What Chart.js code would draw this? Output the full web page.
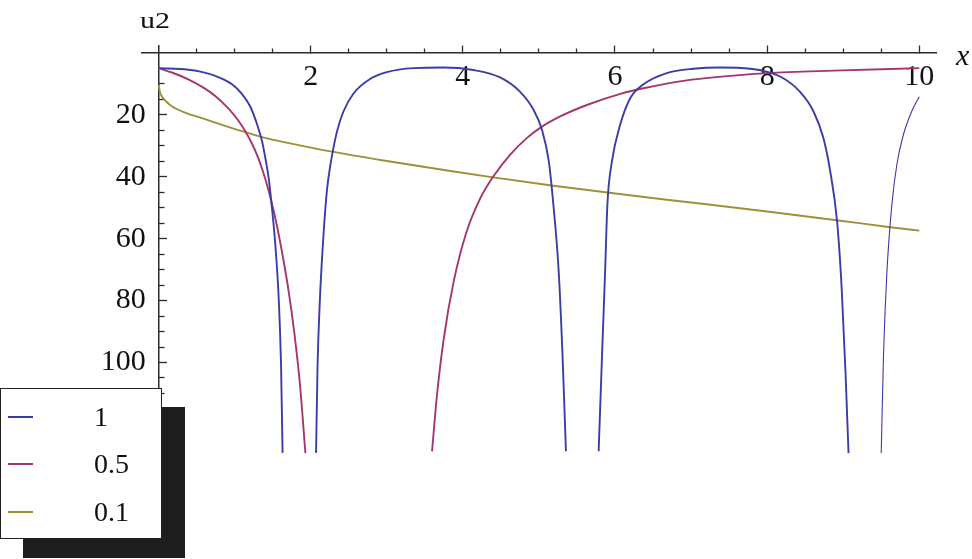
<!DOCTYPE html>
<html lang="en">
<head>
    <meta charset="UTF-8">
    <title>u2</title>
    <style>
        body { margin: 0; background: #fff; }
        #wrap { position: relative; width: 972px; height: 559px; overflow: hidden; }
        #plot { position: absolute; left: 0; top: 0; }
        .txt { position: absolute; font-family: "Liberation Serif", serif; color: #111; line-height: 1; white-space: nowrap; }
        #ylab { left: 140px; top: 8px; font-size: 24px; transform: scaleX(1.25); transform-origin: left top; }
        #xlab { left: 956px; top: 40px; font-size: 30px; font-style: italic; }
        #legend { position: absolute; left: 0; top: 388px; width: 162px; height: 151px; box-sizing: border-box;
                  border: 1.5px solid #222; background: #fff; box-shadow: 23px 19px 0 #1e1e1e; }
        .row { position: absolute; left: 0; width: 160px; height: 30px; }
        .row i { position: absolute; left: 7px; top: 14px; width: 25px; height: 2px; }
        .row span { position: absolute; left: 93px; top: 1px; font-size: 28px; }
    </style>
</head>
<body>
<div id="wrap">
    <canvas id="plot" width="972" height="559"></canvas>
    <div id="ylab" class="txt">u2</div>
    <div id="xlab" class="txt">x</div>
    <div id="legend"></div>
</div>

<script src="https://cdn.jsdelivr.net/npm/chart.js"></script>
<script>
    // values (null = curve leaves the plot range)
    const seriesLabels = ['1', '0.5', '0.1'];
    const seriesColors = ['#3c3ca6', '#a5356f', '#9d9036'];

    const blueX = [0, 0.39, 0.55, 0.745, 0.965, 1.095, 1.205, 1.29, 1.36, 1.40, 1.45, 1.49, 1.535, 1.58, 1.61, 1.63, 1.85,
        2.07, 2.09, 2.12, 2.17, 2.215, 2.26, 2.29, 2.345, 2.43, 2.565, 2.78, 3.0, 3.35, 3.75, 4.14, 4.49, 4.75, 4.93, 5.04, 5.13, 5.19, 5.26, 5.31, 5.355, 5.57,
        5.785, 5.83, 5.87, 5.90, 5.96, 6.07, 6.2, 6.375, 6.68, 7.03, 7.38, 7.78, 8.17, 8.43, 8.61, 8.74, 8.83, 8.92, 8.98, 9.03, 9.07, 9.28,
        9.5, 9.53, 9.575, 9.64, 9.705, 9.79, 9.9, 10.0];
    const blueY = [4.9, 5.4, 6.0, 7.4, 10.1, 13.2, 17.3, 22.7, 28.5, 33.5, 41, 50, 62, 79.7, 101, 129.2, null,
        129.2, 101, 80, 58, 44, 36, 31.8, 25.4, 18.9, 13, 8.4, 6.2, 4.9, 4.7, 5.5, 7.9, 12.5, 18.4, 24.8, 35, 49, 70.6, 97.5, 128.7, null,
        128.7, 97.5, 70.6, 49, 35, 23, 14.6, 10.1, 6.5, 5.1, 4.7, 5.1, 7.6, 12.5, 18.9, 27.5, 38.3, 54.5, 76, 102.9, 129.3, null,
        129.3, 97.5, 70.6, 49, 36.1, 26.5, 18.9, 14.1];

    const redX = [0, 0.175, 0.39, 0.61, 0.745, 0.92, 1.05, 1.14, 1.23, 1.315, 1.40, 1.49, 1.56, 1.635, 1.71, 1.785, 1.86, 1.93, 2.8,
        3.595, 3.66, 3.75, 3.88, 4.05, 4.23, 4.40, 4.62, 4.84, 5.04, 5.28, 5.63, 6.07, 6.375, 6.9, 7.56, 8.0, 8.87, 10.0];
    const redY = [4.9, 6.3, 8.5, 11.5, 13.9, 18.0, 21.9, 25.3, 29.4, 34.2, 40.5, 48.6, 56.3, 66.0, 77.0, 90.5, 107.5, 129.3, null,
        128.7, 110.5, 92.1, 73.8, 57.7, 46.9, 39.9, 32.9, 27.5, 23.8, 20.5, 16.8, 13.2, 11.4, 9.0, 7.3, 6.5, 5.7, 4.9];

    const oliveX = [0, 0.02, 0.045, 0.11, 0.175, 0.33, 0.55, 0.83, 1.13, 1.36, 1.73, 2.26, 3.0, 3.88, 4.40, 5.19, 5.98, 6.68, 7.56, 8.0, 8.94, 9.62, 10.0];
    const oliveY = [10.3, 12.8, 14.1, 15.9, 17.2, 19.1, 20.9, 23.2, 25.5, 27.2, 29.2, 31.8, 34.9, 38.3, 40.2, 42.9, 45.3, 47.4, 49.9, 51.2, 54.1, 56.3, 57.4];

    const xMajor = [2, 4, 6, 8, 10];
    const xMinor = [0.5, 1, 1.5, 2.5, 3, 3.5, 4.5, 5, 5.5, 6.5, 7, 7.5, 8.5, 9, 9.5];
    const yMajor = [20, 40, 60, 80, 100, 120];
    const yMinor = [5, 10, 15, 25, 30, 35, 45, 50, 55, 65, 70, 75, 85, 90, 95, 105, 110, 115, 125];

    const xs = [blueX, redX, oliveX];
    const ys = [blueY, redY, oliveY];

    const X_MIN = -0.218, X_MAX = 10.22, Y_MIN = -2.26, Y_MAX = 129.4;
    const AXIS = '#2b2b2b';
    const tickFont = { family: 'Liberation Serif', size: 30 };

    function setTicks(vals) {
        return function (scale) { scale.ticks = vals.map(v => ({ value: v })); };
    }

    const datasets = seriesLabels.map((lab, i) => ({
        label: lab,
        data: xs[i].map((x, j) => ({ x: x, y: ys[i][j] })),
        borderColor: seriesColors[i],
        borderWidth: 1.9,
        pointRadius: 0,
        spanGaps: false,
        cubicInterpolationMode: 'monotone',
        xAxisID: 'x',
        yAxisID: 'y',
        // last blue branch is drawn thinner in the original
        segment: i === 0 ? { borderWidth: c => c.p0.parsed.x >= 9.45 ? 1.1 : undefined } : undefined
    }));

    const ctx = document.getElementById('plot').getContext('2d');
    new Chart(ctx, {
        type: 'line',
        data: { datasets: datasets },
        options: {
            responsive: false,
            animation: false,
            layout: { padding: { left: 142, top: 46, right: 36, bottom: 105.5 } },
            plugins: { legend: { display: false }, tooltip: { enabled: false } },
            scales: {
                x: {
                    type: 'linear', position: { y: 0 }, min: X_MIN, max: X_MAX,
                    afterBuildTicks: setTicks(xMajor),
                    grid: { drawOnChartArea: false, tickLength: -8, tickColor: AXIS, tickWidth: 1.3 },
                    border: { color: AXIS, width: 1.5 },
                    ticks: { font: tickFont, color: '#111', padding: 14, maxRotation: 0, autoSkip: false }
                },
                xm: {
                    type: 'linear', position: { y: 0 }, min: X_MIN, max: X_MAX,
                    afterBuildTicks: setTicks(xMinor),
                    grid: { drawOnChartArea: false, tickLength: -4.5, tickColor: AXIS, tickWidth: 1.3 },
                    border: { display: false },
                    ticks: { display: false }
                },
                y: {
                    type: 'linear', reverse: true, position: { x: 0 }, min: Y_MIN, max: Y_MAX,
                    afterBuildTicks: setTicks(yMajor),
                    grid: { drawOnChartArea: false, tickLength: -9, tickColor: AXIS, tickWidth: 1.3 },
                    border: { color: AXIS, width: 1.5 },
                    ticks: { display: false }
                },
                ym: {
                    type: 'linear', reverse: true, position: { x: 0 }, min: Y_MIN, max: Y_MAX,
                    afterBuildTicks: setTicks(yMinor),
                    grid: { drawOnChartArea: false, tickLength: -5.5, tickColor: AXIS, tickWidth: 1.3 },
                    border: { display: false },
                    ticks: { display: false }
                },
                // labels of the vertical axis, right-aligned a little left of it
                yLab: {
                    type: 'linear', reverse: true, position: { x: -0.168 }, min: Y_MIN, max: Y_MAX,
                    afterBuildTicks: setTicks(yMajor),
                    grid: { display: false },
                    border: { display: false },
                    ticks: { font: tickFont, color: '#111', autoSkip: false }
                }
            }
        }
    });

    // legend box
    const legend = document.getElementById('legend');
    seriesLabels.forEach((lab, i) => {
        const row = document.createElement('div');
        row.className = 'row';
        row.style.top = (12.5 + i * 47.5) + 'px';
        row.innerHTML = '<i style="background:' + seriesColors[i] + '"></i><span class="txt">' + lab + '</span>';
        legend.appendChild(row);
    });
</script>
</body>
</html>
